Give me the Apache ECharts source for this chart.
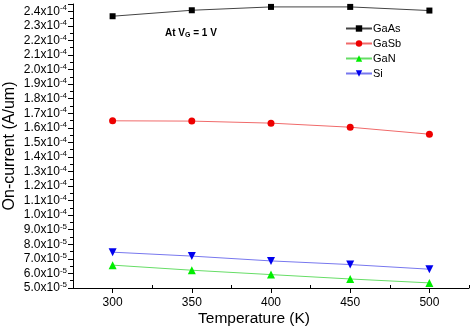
<!DOCTYPE html>
<html><head><meta charset="utf-8">
<script src="https://cdn.jsdelivr.net/npm/echarts@6/dist/echarts.min.js"></script>
<style>html,body{margin:0;padding:0;background:#fff}#c{width:474px;height:334px}</style>
</head><body><div id="c"></div>
<script>
const temperatures = [300, 350, 400, 450, 500];
const gaas = [2.366e-4, 2.407e-4, 2.430e-4, 2.430e-4, 2.405e-4];
const gasb = [1.648e-4, 1.646e-4, 1.632e-4, 1.604e-4, 1.556e-4];
const gan  = [6.57e-5, 6.22e-5, 5.92e-5, 5.62e-5, 5.35e-5];
const si   = [7.46e-5, 7.19e-5, 6.86e-5, 6.61e-5, 6.29e-5];
const xMajorTicks = [300, 350, 400, 450, 500];
const xMinorTicks = [275, 325, 375, 425, 475, 525];

const FONT = 'Liberation Sans, Arial, sans-serif';
function pairs(arr){ return temperatures.map((t,i)=>[t, arr[i]]); }
function yFmt(v){
  if (v > 2.405e-4) return '';
  let exp, m;
  if (v < 9.95e-5) { exp = -5; m = v / 1e-5; } else { exp = -4; m = v / 1e-4; }
  return '{b|' + m.toFixed(1) + 'x10}{s|' + exp + '}';
}
const chart = echarts.init(document.getElementById('c'));
function mk(name, data, color, lineColor, symbol, size){
  return {
    name, type: 'line', data: pairs(data), symbol, symbolSize: size,
    itemStyle: {color}, lineStyle: {color: lineColor, width: 1},
    emphasis: {disabled: true}, animation: false
  };
}
chart.setOption({
  animation: false,
  grid: {left: 73, top: 4, right: 5, bottom: 46},
  legend: {
    left: 340, top: 17, orient: 'vertical', itemWidth: 26, itemHeight: 8, itemGap: 2,
    textStyle: {fontFamily: FONT, fontSize: 11, color: '#000', padding: [0,0,0,-4], lineHeight: 13},
    data: ['GaAs','GaSb','GaN','Si']
  },
  xAxis: [{
    type: 'value', min: 275, max: 525, interval: 25,
    axisLine: {lineStyle: {color: '#000', width: 1}},
    axisTick: {show: true, customValues: xMajorTicks, length: 5, lineStyle: {color: '#000'}},
    axisLabel: {customValues: xMajorTicks, fontFamily: FONT, fontSize: 12, color: '#000', margin: 9},
    splitLine: {show: false}
  },{
    type: 'value', min: 275, max: 525, position: 'bottom',
    axisLine: {show: false},
    axisTick: {show: true, customValues: xMinorTicks, length: 3, inside: true, lineStyle: {color: '#000'}},
    axisLabel: {show: false}, splitLine: {show: false}
  }],
  yAxis: {
    type: 'value', min: 5e-5, max: 2.45e-4, interval: 1e-5,
    axisLine: {show: true, lineStyle: {color: '#000', width: 1}},
    axisTick: {show: true, length: 5, lineStyle: {color: '#000'}},
    minorTick: {show: true, splitNumber: 2, length: 3, lineStyle: {color: '#000'}},
    axisLabel: {
      formatter: yFmt, margin: 6,
      rich: {
        b: {fontFamily: FONT, fontSize: 12, color: '#000', lineHeight: 14},
        s: {fontFamily: FONT, fontSize: 8, color: '#000', verticalAlign: 'top', lineHeight: 14, padding: [0,0,5,0]}
      }
    },
    splitLine: {show: false}
  },
  series: [
    mk('GaAs', gaas, '#000000', '#444444', 'rect', 6),
    mk('GaSb', gasb, '#ee0000', '#f06a6a', 'circle', 7),
    mk('GaN', gan, '#00ee00', '#66dd66', 'triangle', 8),
    {...mk('Si', si, '#0000ee', '#7777ee', 'triangle', 8), symbolRotate: 180}
  ],
  graphic: [
    {type: 'text', x: 10, y: 146, rotation: Math.PI/2, style: {text: 'On-current (A/um)', font: '16px ' + FONT, fill: '#000', align: 'center', verticalAlign: 'middle'}},
    {type: 'text', x: 254, y: 319, style: {text: 'Temperature (K)', font: '15.5px ' + FONT, fill: '#000', align: 'center', verticalAlign: 'middle'}},
    {type: 'text', x: 165, y: 33, style: {
      rich: {a: {font: 'bold 10px ' + FONT, fill: '#000'}, g: {font: 'bold 7px ' + FONT, fill: '#000', padding: [5,0,0,0]}},
      text: '{a|At V}{g|G}{a| = 1 V}', verticalAlign: 'middle'}}
  ]
});
</script></body></html>
